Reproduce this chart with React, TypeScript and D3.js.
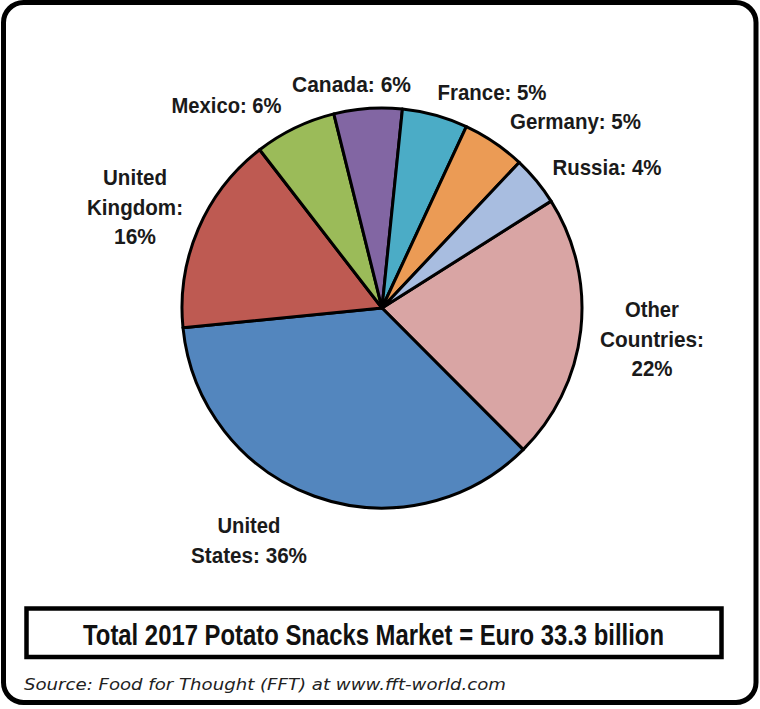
import React from "react";
import * as d3 from "d3";

const countries = ["Other Countries", "United States", "United Kingdom", "Mexico", "Canada", "France", "Germany", "Russia"];
const shares = [21.5, 35.9, 16.1, 6.6, 5.5, 5.3, 5.1, 4.0];
const labelLines = [
  ["Other", "Countries:", "22%"],
  ["United", "States: 36%"],
  ["United", "Kingdom:", "16%"],
  ["Mexico: 6%"],
  ["Canada: 6%"],
  ["France: 5%"],
  ["Germany: 5%"],
  ["Russia: 4%"],
];
const titleText = "Total 2017 Potato Snacks Market = Euro 33.3 billion";
const sourceText = "Source:  Food for Thought (FFT) at www.fft-world.com";

const colors = ["#D9A5A4", "#5386BE", "#BE5A52", "#9BBB59", "#8266A3", "#4BACC6", "#EB9B55", "#A8BDE0"];
// label layout: center x, first baseline y, line widths
const labelLayout = [
  { cx: 652, y: 317, widths: [54, 104, 41] },
  { cx: 249, y: 533, widths: [63, 116] },
  { cx: 135, y: 185, widths: [64, 96, 42] },
  { cx: 226.5, y: 113, widths: [110] },
  { cx: 351.5, y: 92, widths: [119] },
  { cx: 492, y: 100, widths: [109] },
  { cx: 575.5, y: 129, widths: [131] },
  { cx: 607, y: 175, widths: [109] },
];

export default function App() {
  const W = 760, H = 709;
  const cx = 382, cy = 308, r = 200;
  const start = (57.7 * Math.PI) / 180;
  const pie = d3.pie<number>().sort(null).startAngle(start).endAngle(start + 2 * Math.PI);
  const arcs = pie(shares);
  const arcGen = d3.arc<d3.PieArcDatum<number>>().innerRadius(0).outerRadius(r);
  const lineGap = 29.5;
  const labelFont = "'Liberation Sans', Arial, sans-serif";
  const titleScale = 0.823;
  return (
    <svg width={W} height={H} viewBox={`0 0 ${W} ${H}`} style={{ position: "absolute", left: 0, top: 0, background: "#fff" }}>
      <rect x={0} y={0} width={W} height={H} fill="#fff" />
      <rect x={3.5} y={2.5} width={752.5} height={700} rx={20} ry={20} fill="#fff" stroke="#000" strokeWidth={5} />
      <g transform={`translate(${cx},${cy})`}>
        {arcs.map((a, i) => (
          <path key={countries[i]} d={arcGen(a) || ""} fill={colors[i]} stroke="#000" strokeWidth={3} strokeLinejoin="round" />
        ))}
      </g>
      {labelLines.map((lines, i) => (
        <g key={"l" + i}>
          {lines.map((ln, j) => (
            <text
              key={j}
              x={labelLayout[i].cx}
              y={labelLayout[i].y + j * lineGap}
              textAnchor="middle"
              fontFamily={labelFont}
              fontWeight="bold"
              fontSize={22}
              fill="#1a1a1a"
              textLength={labelLayout[i].widths[j]}
              lengthAdjust="spacingAndGlyphs"
            >
              {ln}
            </text>
          ))}
        </g>
      ))}
      <rect x={26.5} y={608.5} width={695} height={48.5} fill="#fff" stroke="#000" strokeWidth={4.5} />
      <g transform={`translate(${373.5},645) scale(${titleScale},1)`}>
        <text x={0} y={0} textAnchor="middle" fontFamily={labelFont} fontWeight="bold" fontSize={29} fill="#111">
          {titleText}
        </text>
      </g>
      <text x={24} y={690} fontFamily="'DejaVu Sans', Verdana, sans-serif" fontStyle="italic" fontSize={16.5} fill="#222" textLength={482} lengthAdjust="spacingAndGlyphs">
        {sourceText}
      </text>
    </svg>
  );
}
